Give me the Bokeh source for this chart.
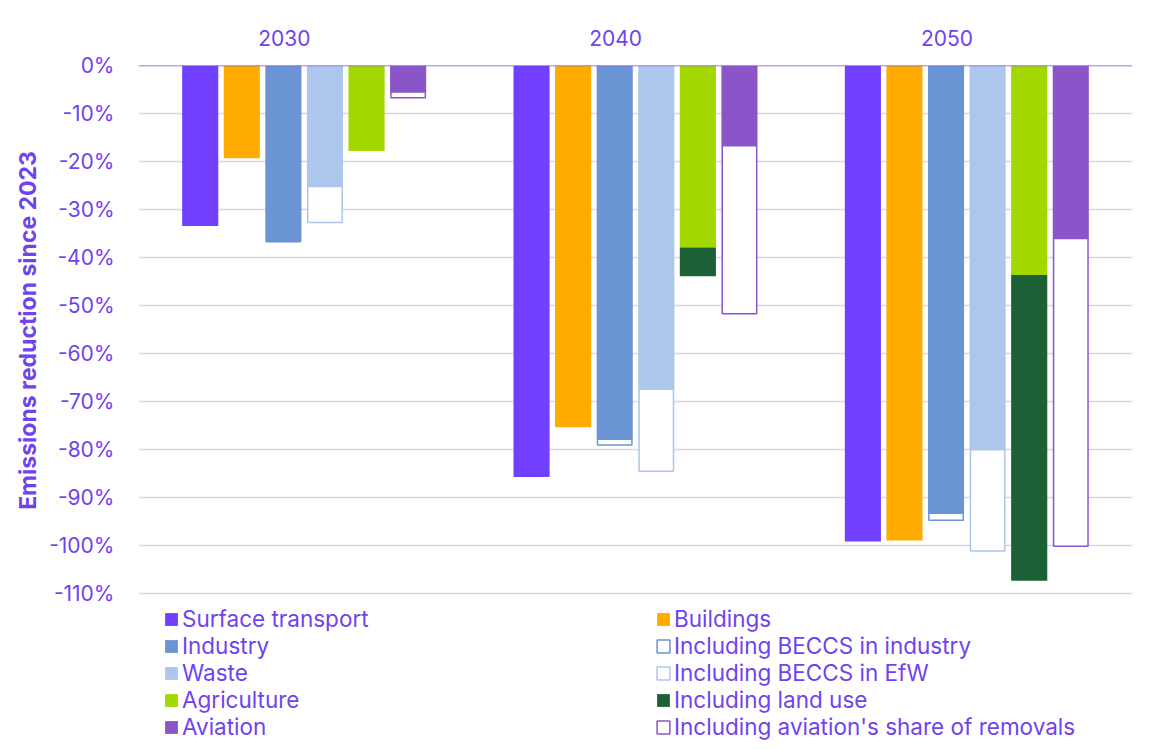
from bokeh.plotting import figure
from bokeh.layouts import column
from bokeh.models import (FixedTicker, LinearAxis, Legend, LegendItem, Span,
                          CustomJSTickFormatter, Range1d, ColumnDataSource)
from bokeh.embed import file_html
from bokeh.resources import INLINE

# Emissions reduction since 2023, per sector (percent)
years = ["2030", "2040", "2050"]
surface_transport = [-33.4, -85.7, -99.1]
buildings = [-19.3, -75.3, -98.9]
industry = [-36.7, -77.8, -93.2]
industry_with_beccs = [-36.7, -79.0, -94.7]
waste = [-25.2, -67.4, -80.0]
waste_with_beccs_efw = [-32.7, -84.5, -101.1]
agriculture = [-17.8, -37.9, -43.6]
agriculture_with_land_use = [-17.8, -43.9, -107.3]
aviation = [-5.5, -16.7, -36.0]
aviation_with_removals = [-6.7, -51.7, -100.1]

y_ticks = [0, -10, -20, -30, -40, -50, -60, -70, -80, -90, -100, -110]
y_tick_labels = ["0%", "-10%", "-20%", "-30%", "-40%", "-50%", "-60%",
                 "-70%", "-80%", "-90%", "-100%", "-110%"]

FONT = "Inter"
TEXT = "#7043F0"

C_TRANSPORT = "#7140FF"
C_BUILDINGS = "#FFAB00"
C_INDUSTRY = "#6A94D4"
C_WASTE = "#ADC6EB"
C_AGRI = "#A2D800"
C_LAND = "#1C6136"
C_AVIATION = "#8A55C9"

BAR_W = 0.109
SLOT = 0.1255
BOX_W = BAR_W - 0.005
YEAR_LABEL_OFFSET = 0.44


def slot_x(k):
    return [i + 0.5 + (k - 2.5) * SLOT for i in range(len(years))]


p = figure(width=1156, height=606, x_range=Range1d(0, 3), y_range=Range1d(-110.35, 0),
           output_backend="svg", toolbar_location=None, x_axis_location=None,
           min_border_left=138, min_border_right=24, min_border_top=65,
           min_border_bottom=11)
p.outline_line_color = None
p.background_fill_color = "white"
p.border_fill_color = "white"

# grid
p.xgrid.grid_line_color = None
p.ygrid.ticker = FixedTicker(ticks=y_ticks)
p.ygrid.grid_line_color = "#D9D9D9"
p.ygrid.grid_line_width = 1.5

# y axis
yax = p.yaxis[0]
yax.ticker = FixedTicker(ticks=y_ticks)
yax.major_label_overrides = dict(zip(y_ticks, y_tick_labels))
yax.axis_label = "Emissions reduction since 2023"
yax.axis_label_text_font = FONT
yax.axis_label_text_font_style = "bold"
yax.axis_label_text_font_size = "23px"
yax.axis_label_text_color = TEXT
yax.axis_label_standoff = 4
yax.major_label_text_font = FONT
yax.major_label_text_font_size = "21px"
yax.major_label_text_color = TEXT
yax.major_label_standoff = 18
yax.major_tick_line_color = None
yax.minor_tick_line_color = None
yax.axis_line_color = None

# year labels on top
top_ticks = [i + YEAR_LABEL_OFFSET for i in range(len(years))]
top = LinearAxis(ticker=FixedTicker(ticks=top_ticks),
                 formatter=CustomJSTickFormatter(
                     args=dict(labels=years, off=YEAR_LABEL_OFFSET),
                     code="return labels[Math.round(tick - off)];"))
top.major_label_text_font = FONT
top.major_label_text_font_size = "21px"
top.major_label_text_color = TEXT
top.major_label_standoff = 14
top.major_tick_line_color = None
top.minor_tick_line_color = None
top.axis_line_color = None
p.add_layout(top, "above")


def solid(k, bottom, top_vals, color):
    src = ColumnDataSource(dict(x=slot_x(k), top=top_vals, bottom=bottom))
    return p.vbar(x="x", width=BAR_W, top="top", bottom="bottom", source=src,
                  fill_color=color, line_color=None)


def outlined(k, base, total, color):
    src = ColumnDataSource(dict(x=slot_x(k), top=base, bottom=total))
    return p.vbar(x="x", width=BOX_W, top="top", bottom="bottom", source=src,
                  fill_color="white", line_color=color, line_width=1.5)


zeros = [0] * len(years)

outlined(2, industry, industry_with_beccs, C_INDUSTRY)
outlined(3, waste, waste_with_beccs_efw, C_WASTE)
outlined(5, aviation, aviation_with_removals, C_AVIATION)

solid(0, surface_transport, zeros, C_TRANSPORT)
solid(1, buildings, zeros, C_BUILDINGS)
solid(2, industry, zeros, C_INDUSTRY)
solid(3, waste, zeros, C_WASTE)
solid(4, agriculture, zeros, C_AGRI)
solid(4, agriculture_with_land_use, agriculture, C_LAND)
solid(5, aviation, zeros, C_AVIATION)

# 0% baseline
p.add_layout(Span(location=0, dimension="width", line_color="#7B4DF0", line_width=1.5))

# legend panel underneath the chart
legend_labels = ["Surface transport", "Buildings",
                 "Industry", "Including BECCS in industry",
                 "Waste", "Including BECCS in EfW",
                 "Agriculture", "Including land use",
                 "Aviation", "Including aviation's share of removals"]
legend_fill = [C_TRANSPORT, C_BUILDINGS, C_INDUSTRY, "white", C_WASTE, "white",
               C_AGRI, C_LAND, C_AVIATION, "white"]
legend_line = [None, None, None, C_INDUSTRY, None, C_WASTE, None, None, None, C_AVIATION]

lg = figure(width=1156, height=144, x_range=Range1d(0, 1), y_range=Range1d(0, 1),
            output_backend="svg", toolbar_location=None, x_axis_location=None,
            y_axis_location=None, min_border_left=138, min_border_right=24,
            min_border_top=0, min_border_bottom=10)
lg.outline_line_color = None
lg.grid.grid_line_color = None

items = []
for label, fc, lc in zip(legend_labels, legend_fill, legend_line):
    # swatch-only renderer: no drawable geometry, just the legend glyph
    swatch = lg.vbar(x=[float("nan")], top=[float("nan")], width=0.1,
                     fill_color=fc, line_color=lc, line_width=1.5)
    items.append(LegendItem(label=label, renderers=[swatch]))

legend = Legend(items=items, location=(25, 0), orientation="horizontal", ncols=2,
                padding=0, margin=0, spacing=0, label_height=20, glyph_width=16,
                glyph_height=16, label_standoff=3, label_width=473,
                label_text_font=FONT, label_text_font_size="22.5px",
                label_text_color=TEXT, border_line_color=None,
                background_fill_alpha=0)
lg.add_layout(legend, "center")

open("out.html", "w").write(file_html(column(p, lg, spacing=0), INLINE))
